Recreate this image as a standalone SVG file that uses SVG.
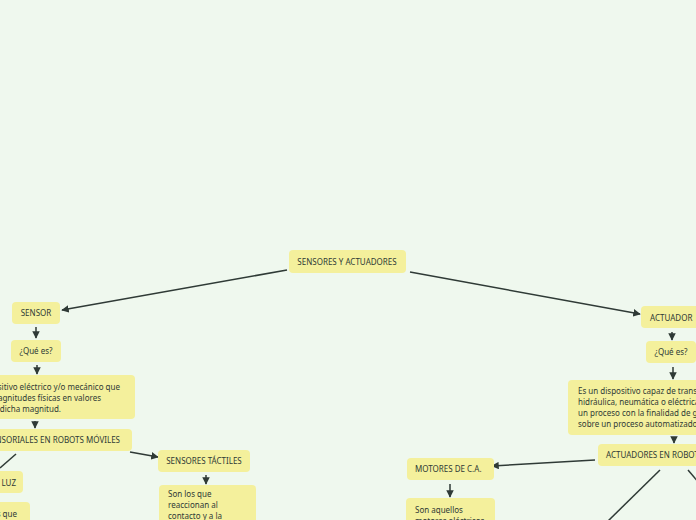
<svg xmlns="http://www.w3.org/2000/svg" width="696" height="520" viewBox="0 0 696 520">
<style>
.n{fill:#f4f09c}
text{font-family:"Noto Sans","Open Sans",sans-serif;font-size:8px;fill:#2f3a36}
.c line{stroke:#2f3a36;stroke-width:1.5}
</style>
<defs><marker id="a" viewBox="0 0 10 10" refX="9" refY="5" markerWidth="5" markerHeight="5" orient="auto"><path d="M0,0L10,5L0,10z" fill="#2f3a36"/></marker></defs>
<rect width="696" height="520" fill="#eff8ee"/>
<g class="c">
<line x1="287" y1="270" x2="62" y2="310" marker-end="url(#a)"/>
<line x1="410" y1="272" x2="640" y2="314" marker-end="url(#a)"/>
<line x1="36" y1="327" x2="36" y2="338" marker-end="url(#a)"/>
<line x1="37" y1="365" x2="37" y2="374" marker-end="url(#a)"/>
<line x1="35" y1="421" x2="35" y2="428" marker-end="url(#a)"/>
<line x1="130" y1="452" x2="158" y2="457" marker-end="url(#a)"/>
<line x1="16" y1="454" x2="0" y2="468"/>
<line x1="206" y1="475" x2="206" y2="484" marker-end="url(#a)"/>
<line x1="672" y1="332" x2="672" y2="340" marker-end="url(#a)"/>
<line x1="673" y1="367" x2="673" y2="379" marker-end="url(#a)"/>
<line x1="674" y1="437" x2="674" y2="443" marker-end="url(#a)"/>
<line x1="595" y1="460" x2="492" y2="466" marker-end="url(#a)"/>
<line x1="450" y1="484" x2="450" y2="497" marker-end="url(#a)"/>
<line x1="660" y1="470" x2="607" y2="522"/>
<line x1="688" y1="470" x2="700" y2="484"/>
</g>
<g id="root"><rect class="n" x="289" y="250" width="117" height="23" rx="4"/><text x="347" y="265" text-anchor="middle">SENSORES Y ACTUADORES</text></g>
<g id="sensor"><rect class="n" x="12" y="302" width="48" height="22" rx="4"/><text x="36" y="316" text-anchor="middle">SENSOR</text></g>
<g id="sq"><rect class="n" x="11" y="340" width="50" height="22" rx="4"/><text x="36" y="354" text-anchor="middle">¿Qué es?</text></g>
<g id="sdef"><rect class="n" x="-10" y="375" width="145" height="44" rx="4"/>
<text x="120" y="390" text-anchor="end">Es un dispositivo eléctrico y/o mecánico que</text>
<text x="101" y="401" text-anchor="end">convierte magnitudes físicas en valores</text>
<text x="61" y="412" text-anchor="end">numéricos de dicha magnitud.</text></g>
<g id="ssr"><rect class="n" x="-10" y="429" width="142" height="22" rx="4"/><text x="120" y="443" text-anchor="end">SENSORES SENSORIALES EN ROBOTS MÓVILES</text></g>
<g id="luz"><rect class="n" x="-10" y="471" width="33" height="22" rx="4"/><text x="16" y="486" text-anchor="end">LUZ</text></g>
<g id="luzd"><rect class="n" x="-10" y="502" width="40" height="30" rx="4"/><text x="17" y="517" text-anchor="end">Son los que</text></g>
<g id="tact"><rect class="n" x="158" y="450" width="92" height="22" rx="4"/><text x="204" y="464" text-anchor="middle">SENSORES TÁCTILES</text></g>
<g id="tactd"><rect class="n" x="159" y="485" width="97" height="45" rx="4"/>
<text x="168" y="497">Son los que</text><text x="168" y="508">reaccionan al</text><text x="168" y="519">contacto y a la</text></g>
<g id="act"><rect class="n" x="641" y="306" width="60" height="22" rx="4"/><text x="650" y="321">ACTUADOR</text></g>
<g id="aq"><rect class="n" x="646" y="341" width="50" height="22" rx="4"/><text x="671" y="355" text-anchor="middle">¿Qué es?</text></g>
<g id="adef"><rect class="n" x="568" y="380" width="140" height="55" rx="4"/>
<text x="578" y="394">Es un dispositivo capaz de transformar energía</text>
<text x="578" y="405">hidráulica, neumática o eléctrica en la activación de</text>
<text x="578" y="416">un proceso con la finalidad de generar un efecto</text>
<text x="578" y="427">sobre un proceso automatizado.</text></g>
<g id="aer"><rect class="n" x="598" y="444" width="110" height="22" rx="4"/><text x="606" y="458">ACTUADORES EN ROBOTS</text></g>
<g id="mot"><rect class="n" x="407" y="458" width="87" height="22" rx="4"/><text x="415" y="472">MOTORES DE C.A.</text></g>
<g id="motd"><rect class="n" x="406" y="498" width="89" height="30" rx="4"/><text x="415" y="513">Son aquellos</text><text x="415" y="524">motores eléctricos</text></g>
</svg>
